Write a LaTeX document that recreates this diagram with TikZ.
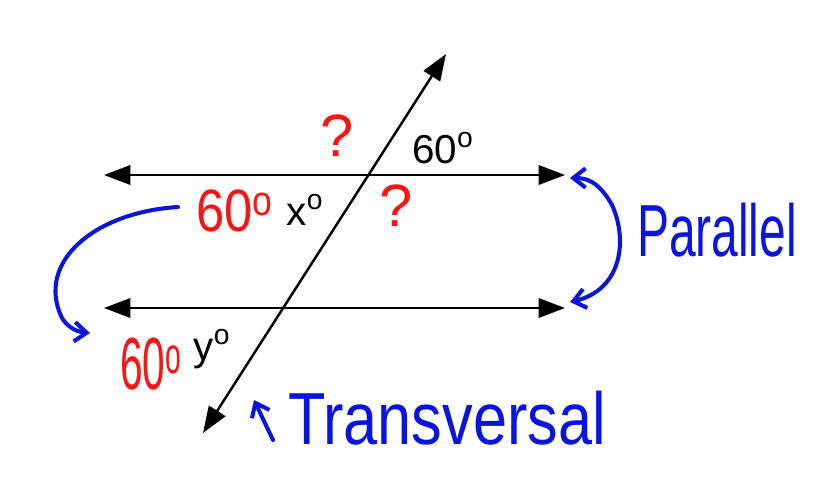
\documentclass[tikz,border=0pt]{standalone}
\usepackage{graphicx}
\usepackage{fontspec}
\setmainfont{Liberation Sans}
\usetikzlibrary{arrows.meta}

\definecolor{penred}{RGB}{250,20,20}
\definecolor{penblue}{RGB}{10,20,225}

\tikzset{
  line/.style={line width=1.4pt,{Triangle[length=15pt,width=11pt]}-{Triangle[length=15pt,width=11pt]}},
  angle/.style={inner sep=0pt,font=\fontsize{23}{25}\selectfont},
  redpen/.style={inner sep=0pt,text=penred,font=\fontsize{34}{36}\selectfont},
  bluepen/.style={inner sep=0pt,text=penblue,font=\fontsize{42}{44}\selectfont},
  stroke/.style={penblue,line width=2.3pt,line cap=round,line join=round},
  barb/.style={-{Straight Barb[length=7pt,width=11pt,line width=2.3pt]}}
}

\begin{document}
\begin{tikzpicture}[x=0.02cm,y=-0.02cm]
	\useasboundingbox (0,0) rectangle (838,481);
	
	% the two parallel lines and the transversal
	\coordinate (a1) at (104,175);
	\coordinate (a2) at (565,175);
	\coordinate (b1) at (104,308);
	\coordinate (b2) at (565,308);
	\coordinate (t1) at (203,433);
	\coordinate (t2) at (446,54);
	
	\draw[line] (a1) -- (a2);
	\draw[line] (b1) -- (b2);
	\draw[line] (t1) -- (t2);
	
	% printed angle labels
	\node[angle] (sixty) at (443,148) {60\textsuperscript{o}};
	\node[angle] (xang) at (305,210) {x\textsuperscript{o}};
	\node[angle] (yang) at (212,349) {y\textsuperscript{o}};
	
	% red notes
	\node[redpen] (q1) at (337,136) {?};
	\node[redpen] (q2) at (396,206) {?};
	\node[redpen] (red1) at (235,211) {\scalebox{0.85}[1]{60\textsuperscript{o}}};
	\node[redpen,font=\fontsize{42}{44}\selectfont] (red2) at (151,364) {\scalebox{0.55}[1]{60\textsuperscript{o}}};
	
	% blue notes
	\node[bluepen] (par) at (717,230) {\scalebox{0.65}[1]{Parallel}};
	\node[bluepen] (trans) at (447,418) {\scalebox{0.83}[1]{Transversal}};
	
	\coordinate (c1) at (178,207);
	\coordinate (c2) at (90,333);
	\draw[stroke,barb] (c1) .. controls (95,212) and (35,262) .. (62,318) .. controls (68,328) and (78,332) .. (c2);
	
	\coordinate (p1) at (570,178);
	\coordinate (p2) at (570,302);
	\draw[stroke,barb] (612,205) .. controls (598,180) and (585,178) .. (p1);
	\draw[stroke,barb] (612,205) .. controls (628,240) and (622,290) .. (p2);
	
	\coordinate (u1) at (273,440);
	\coordinate (u2) at (254,400);
	\draw[stroke,barb] (u1) -- (u2);
\end{tikzpicture}
\end{document}
